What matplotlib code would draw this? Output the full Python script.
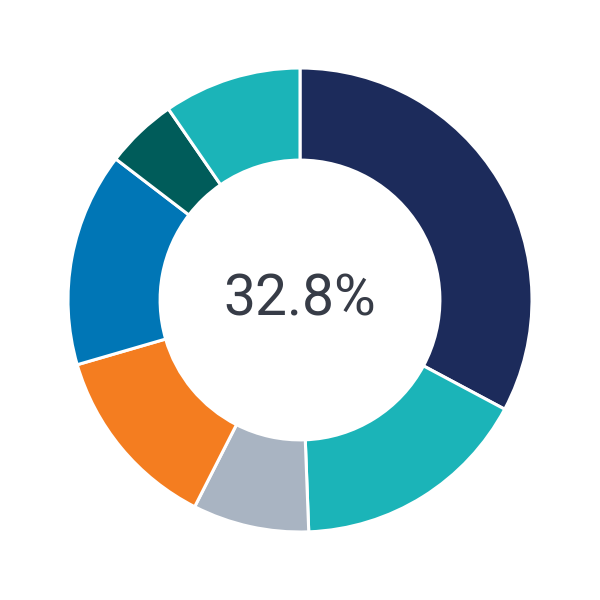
import matplotlib
matplotlib.use("Agg")
import matplotlib.pyplot as plt

# slice shares in percent, clockwise from 12 o'clock
labels = ["A", "B", "C", "D", "E", "F", "G"]
values = [32.8, 16.6, 8.1, 13.0, 14.9, 5.0, 9.6]
colors = ["#1c2b5b", "#1bb4b8", "#a9b4c2", "#f47d20", "#0076b6", "#005c5a", "#1bb4b8"]
center_text = "32.8%"

fig = plt.figure(figsize=(6, 6), dpi=100)
ax = fig.add_axes([0, 0, 1, 1])

ax.pie(values, colors=colors, startangle=90, counterclock=False, radius=1.0,
       wedgeprops=dict(width=0.397, edgecolor="white", linewidth=2.2))

ax.text(0, 0, center_text, ha="center", va="center", fontsize=41,
        color="#373c47", family=["Roboto", "DejaVu Sans"])

lim = 300 / 232
ax.set_xlim(-lim, lim)
ax.set_ylim(-lim, lim)
ax.set_aspect("equal")
ax.axis("off")

fig.savefig("out.png", dpi=100, facecolor="white")
